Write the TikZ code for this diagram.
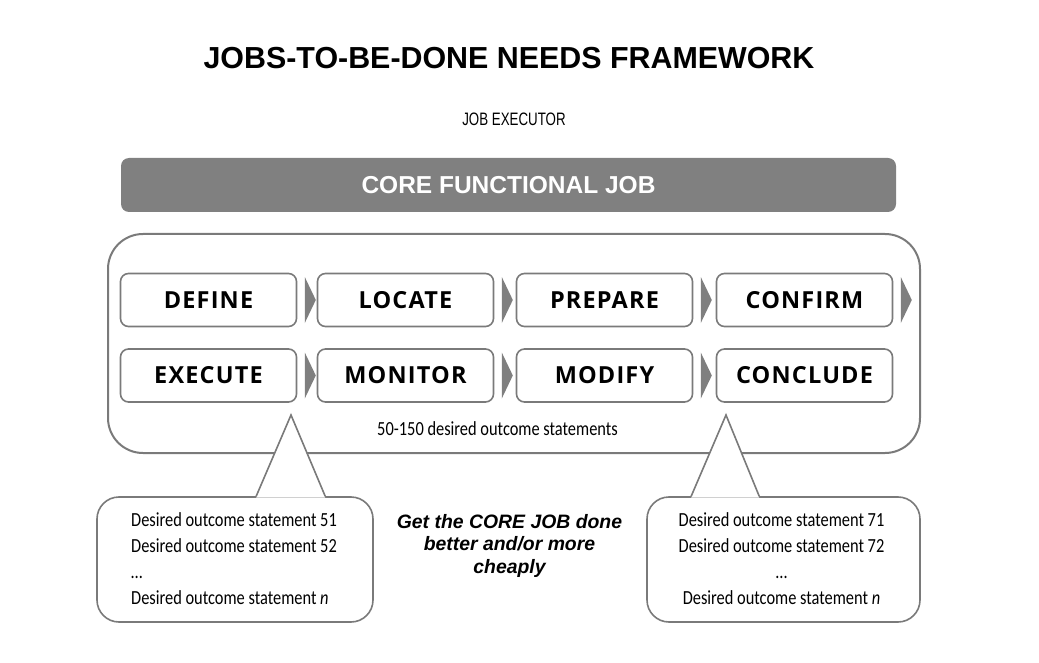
\documentclass[tikz,border=0pt]{standalone}
\usepackage{fontspec}
\setmainfont{Liberation Sans}
\newfontfamily\narrowfont[FakeStretch=0.74]{Liberation Sans}
\newfontfamily\bodyfont[FakeStretch=0.82]{Carlito}
\newfontfamily\stepfont[LetterSpace=5]{Open Sans}
\usetikzlibrary{calc}
\definecolor{linegray}{HTML}{7A7A7A}
\definecolor{bargray}{HTML}{808080}
\definecolor{chevgray}{HTML}{7F7F7F}
\begin{document}
\begin{tikzpicture}[x=1pt,y=-1pt,
  stepbox/.style={draw=linegray, line width=1.6pt, rounded corners=8pt,
    minimum width=176pt, minimum height=53pt, inner sep=0pt,
    font=\stepfont\bfseries\fontsize{23.5}{26}\selectfont},
  callout/.style={draw=linegray, line width=1.6pt, fill=white, rounded corners=22pt,
    minimum height=125pt, inner sep=0pt},
  pointer/.style={draw=linegray, line width=1.6pt, line join=miter},
  chev/.style={fill=chevgray},
  bodytext/.style={font=\bodyfont\fontsize{20}{26.3}\selectfont, inner sep=0pt}
]
\useasboundingbox (0,0) rectangle (1039,663);

% title
\node[font=\bfseries\fontsize{30.4}{34}\selectfont, inner sep=0pt] (title) at (509,58.5) {JOBS-TO-BE-DONE NEEDS FRAMEWORK};
\node[font=\narrowfont\fontsize{18}{20}\selectfont, inner sep=0pt] (executor) at (514,119.5) {JOB EXECUTOR};

% core functional job bar
\node[fill=bargray, rounded corners=8pt, minimum width=775pt, minimum height=54pt,
  inner sep=0pt, text=white, font=\bfseries\fontsize{24.5}{28}\selectfont] (core) at (508.5,185) {CORE FUNCTIONAL JOB};

% big frame
\node[draw=linegray, line width=2pt, rounded corners=35pt, minimum width=812pt,
  minimum height=219pt, inner sep=0pt] (frame) at (514,343.5) {};

% steps
\node[stepbox] (define)   at (208.5,300) {DEFINE};
\node[stepbox] (locate)   at (405.5,300) {LOCATE};
\node[stepbox] (prepare)  at (604.5,300) {PREPARE};
\node[stepbox] (confirm)  at (804.5,300) {CONFIRM};
\node[stepbox] (execute)  at (208.5,375.5) {EXECUTE};
\node[stepbox] (monitor)  at (405.5,375.5) {MONITOR};
\node[stepbox] (modify)   at (604.5,375.5) {MODIFY};
\node[stepbox] (conclude) at (804.5,375.5) {CONCLUDE};

% chevrons
\foreach \n in {define,locate,prepare,confirm,execute,monitor,modify}{
  \fill[chev] ($(\n.east)+(7.5,-23)$) -- ($(\n.east)+(18.5,0)$) -- ($(\n.east)+(7.5,23)$) -- cycle;
}

\node[bodytext, anchor=base] (count) at (497.5,435) {50-150 desired outcome statements};

% left callout
\node[callout, minimum width=276pt] (cl) at (235,559.5) {};
\coordinate (ltip) at (291,415);
\fill[white] ($(cl.north west)+(160,1.5)$) -- (ltip) -- ($(cl.north west)+(229,1.5)$) -- cycle;
\draw[pointer] ($(cl.north west)+(160,0)$) -- (ltip) -- ($(cl.north west)+(229,0)$);
\node[bodytext, anchor=base west] (cltext) at (131,526)
  {\begin{tabular}[t]{@{}l@{}}Desired outcome statement 51\\Desired outcome statement 52\\\dots\\Desired outcome statement \textit{n}\end{tabular}};

% right callout
\node[callout, minimum width=273pt] (cr) at (783.5,559.5) {};
\coordinate (rtip) at (726,415);
\fill[white] ($(cr.north west)+(45,1.5)$) -- (rtip) -- ($(cr.north west)+(113,1.5)$) -- cycle;
\draw[pointer] ($(cr.north west)+(45,0)$) -- (rtip) -- ($(cr.north west)+(113,0)$);
\node[bodytext, anchor=base] (crtext) at (781.5,526)
  {\begin{tabular}[t]{@{}c@{}}Desired outcome statement 71\\Desired outcome statement 72\\\dots\\Desired outcome statement \textit{n}\end{tabular}};

% centre message
\node[font=\bfseries\itshape\fontsize{19.4}{22.5}\selectfont, inner sep=0pt, anchor=base] (goal) at (509.5,528)
  {\begin{tabular}[t]{@{}c@{}}Get the CORE JOB done\\better and/or more\\cheaply\end{tabular}};
\end{tikzpicture}
\end{document}
